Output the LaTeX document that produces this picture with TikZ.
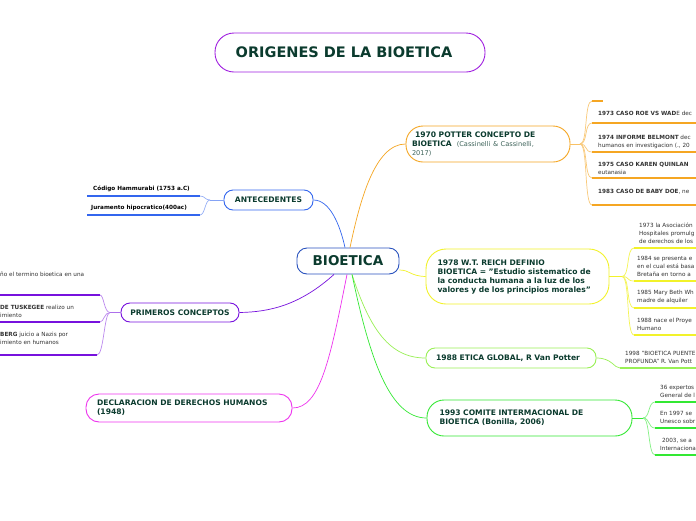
\documentclass[tikz,border=0pt]{standalone}
\usepackage{fontspec}
\setmainfont{DejaVu Sans}
\definecolor{txt}{HTML}{0B3B2E}
\definecolor{cblue}{HTML}{3366EE}
\definecolor{cpurp}{HTML}{7711DD}
\definecolor{cmag}{HTML}{EE33EE}
\definecolor{corg}{HTML}{F5A623}
\definecolor{cyel}{HTML}{F2F22A}
\definecolor{clg}{HTML}{99F055}
\definecolor{cgr}{HTML}{33E833}
\definecolor{ctitle}{HTML}{A020E0}
\begin{document}
\begin{tikzpicture}[x=1pt,y=-1pt,
  topic/.style={draw,rounded corners=9pt,line width=0.9pt,fill=white,text=txt,font=\bfseries\fontsize{7.6}{9}\selectfont,align=left,inner sep=3pt},
  leaf/.style={anchor=west,text=black!80,font=\fontsize{5.7}{8}\selectfont,align=left,inner sep=0pt},
  con/.style={line width=0.7pt},
  ul/.style={line width=1.3pt}]
\clip (0,0) rectangle (696,520);
\useasboundingbox (0,0) rectangle (696,520);
\fill[white] (0,0) rectangle (696,520);
% title
\node[topic,draw=ctitle,minimum width=270pt,minimum height=39pt,rounded corners=19pt,font=\bfseries\fontsize{14.5}{16}\selectfont] (title) at (350,52.5) {\hspace*{-12pt}ORIGENES DE LA BIOETICA};
% central
\node[topic,draw=cblue!80!black,minimum width=102pt,minimum height=26pt,rounded corners=10pt,align=center,font=\bfseries\fontsize{13.5}{15}\selectfont] (bio) at (348,261) {BIOETICA};
% topics
\node[topic,draw=corg,minimum width=164pt,minimum height=36pt,rounded corners=17pt,text width=152pt] (t70) at (488,144) {\hspace*{3pt}1970 POTTER CONCEPTO DE\\BIOETICA \ {\mdseries\fontsize{6.6}{9}\selectfont\color{txt!80}(Cassinelli \& Cassinelli,\\2017)}};
\node[topic,draw=cblue,minimum width=89pt,minimum height=20pt,align=center] (ant) at (268.5,200) {ANTECEDENTES};
\node[topic,draw=cpurp,minimum width=118pt,minimum height=19pt,align=center] (pri) at (180,312.5) {PRIMEROS CONCEPTOS};
\node[topic,draw=cmag,minimum width=206pt,minimum height=28pt,rounded corners=13pt,text width=184pt] (dec) at (189,408) {DECLARACION DE DERECHOS HUMANOS\\(1948)};
\node[topic,draw=cyel,minimum width=183pt,minimum height=55pt,rounded corners=20pt,text width=160pt] (t78) at (517.5,276.5) {1978 W.T. REICH DEFINIO\\BIOETICA = "Estudio sistematico de\\la conducta humana a la luz de los\\valores y de los principios morales"};
\node[topic,draw=clg,minimum width=170pt,minimum height=20pt,rounded corners=9pt,text width=150pt] (t88) at (511,358) {1988 ETICA GLOBAL, R Van Potter};
\node[topic,draw=cgr,minimum width=205pt,minimum height=36pt,rounded corners=17pt,text width=180pt] (t93) at (529.5,418) {1993 COMITE INTERMACIONAL DE\\BIOETICA (Bonilla, 2006)};
% main connectors
\draw[con,corg] (bio.north) ++(2,0) .. controls (360,200) and (375,144) .. (t70.west);
\draw[con,cblue] (bio.north) ++(-3,0) .. controls (340,225) and (330,200) .. (ant.east);
\draw[con,cpurp] (bio.south) ++(-14,0) .. controls (300,305) and (270,312) .. (pri.east);
\draw[con,cmag] (bio.south) ++(-1,0) .. controls (330,360) and (320,408) .. (dec.east);
\draw[con,cyel] (bio.east) ++(0,9) .. controls (410,270) and (410,276) .. (t78.west);
\draw[con,clg] (bio.south) ++(4,0) .. controls (370,330) and (390,358) .. (t88.west);
\draw[con,cgr] (bio.south) ++(4,0) .. controls (370,360) and (390,418) .. (t93.west);
% orange leaves
\coordinate (o0) at (580,144);
\draw[con,corg!70] (t70.east) -- (o0);
\foreach \y/\n in {101/oa,123/ob,152/oc,178/od,205/oe}{
  \coordinate (\n) at (592,\y);
  \draw[con,corg!60] (o0) .. controls (588,144) and (584,\y) .. (\n);}
\draw[ul,corg] (oa) -- (603,101);
\foreach \n in {ob,oc,od,oe}{\draw[ul,corg] (\n) -- +(110,0);}
\node[leaf] (l1) at (598,113) {\textbf{1973 CASO ROE VS WAD}E dec};
\node[leaf] (l2) at (598,142) {\textbf{1974 INFORME BELMONT} dec\\humanos en investigacion (., 20};
\node[leaf] (l3) at (598,168) {\textbf{1975 CASO KAREN QUINLAN}\\eutanasia};
\node[leaf] (l4) at (598,192) {\textbf{1983 CASO DE BABY DOE}, ne};
% yellow leaves
\coordinate (y0) at (622,276.5);
\draw[con,cyel] (t78.east) -- (y0);
\foreach \y/\n in {248/ya,281/yb,308/yc,335/yd}{
  \coordinate (\n) at (634,\y);
  \draw[con,cyel!80] (y0) .. controls (630,276.5) and (626,\y) .. (\n);
  \draw[ul,cyel] (\n) -- +(70,0);}
\node[leaf] (m1) at (639,233) {1973 la Asociación\\Hospitales promulg\\de derechos de los};
\node[leaf] (m2) at (637,266) {1984 se presenta e\\en el cual está basa\\Bretaña en torno a};
\node[leaf] (m3) at (637,297) {1985 Mary Beth Wh\\madre de alquiler};
\node[leaf] (m4) at (637,324) {1988 nace el Proye\\Humano};
% light green leaf
\draw[con,clg] (t88.east) .. controls (612,358) and (614,368) .. (620,368);
\draw[ul,clg] (620,368) -- (696,368);
\node[leaf] (n1) at (625,357) {1998 "BIOETICA PUENTE\\PROFUNDA" R. Van Pott};
% green leaves
\coordinate (h0) at (643,418);
\draw[con,cgr] (t93.east) -- (h0);
\foreach \y/\n in {402/ha,428/hb,455/hc}{
  \coordinate (\n) at (655,\y);
  \draw[con,cgr!60] (h0) .. controls (650,418) and (648,\y) .. (\n);
  \draw[ul,cgr] (\n) -- +(45,0);}
\node[leaf] (k1) at (660,391) {36 expertos\\General de l};
\node[leaf] (k2) at (660,417) {En 1997 se\\Unesco sobr};
\node[leaf] (k3) at (660,444) {\ 2003, se a\\Internaciona};
% antecedentes leaves
\coordinate (a0) at (210,200);
\draw[con,cblue!60] (ant.west) -- (a0);
\foreach \y/\n in {196/aa,215/ab}{
  \coordinate (\n) at (200,\y);
  \draw[con,cblue!50] (a0) .. controls (205,200) and (205,\y) .. (\n);
  \draw[ul,cblue] (\n) -- (87,\y);}
\node[leaf,text=black,font=\bfseries\fontsize{5.7}{8}\selectfont] (b1) at (93,189) {Código Hammurabi (1753 a.C)};
\node[leaf,text=black,font=\bfseries\fontsize{5.7}{8}\selectfont] (b2) at (91,208) {Juramento hipocratico(400ac)};
% primeros leaves
\coordinate (p0) at (110,312.5);
\draw[con,cpurp!60] (pri.west) -- (p0);
\foreach \y/\x/\n in {295/100/pa,322/100/pb,355/97/pc}{
  \coordinate (\n) at (\x,\y);
  \draw[con,cpurp!50] (p0) .. controls (104,312.5) and (104,\y) .. (\n);
  \draw[ul,cpurp] (\n) -- (-5,\y);}
\node[leaf] (q1) at (0,274) {ño el termino bioetica en una};
\node[leaf] (q2) at (0,311) {\textbf{DE TUSKEGEE} realizo un\\imiento};
\node[leaf] (q3) at (0,338) {\textbf{BERG} juicio a Nazis por\\imiento en humanos};
\end{tikzpicture}
\end{document}
